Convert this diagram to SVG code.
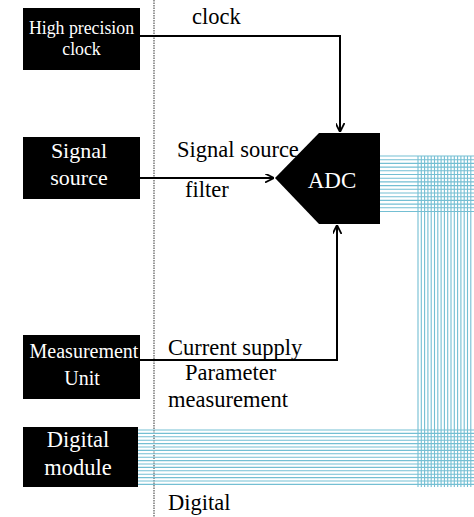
<svg xmlns="http://www.w3.org/2000/svg" width="474" height="517" viewBox="0 0 474 517">
<defs>
<style>
.box{fill:#000}
.wt{fill:#fff;font-family:"Liberation Serif","Times New Roman",serif;text-anchor:middle}
.lb{fill:#000;font-family:"Liberation Serif","Times New Roman",serif;font-size:22.5px}
.conn{stroke:#000;stroke-width:2;fill:none}
.bus{stroke:#74bfd3;stroke-width:1.1}
</style>
<marker id="arr" viewBox="0 0 10 10" refX="10" refY="5" markerWidth="9" markerHeight="9" markerUnits="userSpaceOnUse" orient="auto">
<path d="M0,0 L10,5 L0,10" fill="none" stroke="#000" stroke-width="2"/>
</marker>
</defs>
<rect width="474" height="517" fill="#fff"/>
<line x1="154" y1="0" x2="154" y2="517" stroke="#555" stroke-width="1.2" stroke-dasharray="1.5,1"/>
<g id="bus-lines">
<g class="bus">
<path d="M380,156H474M380,159.7H474M380,163.4H474M380,167.1H474M380,170.8H474M380,174.5H474M380,178.2H474M380,181.9H474M380,185.6H474M380,189.3H474M380,193H474M380,196.7H474M380,200.4H474M380,204.1H474M380,207.8H474M380,211.5H474"/>
<path d="M418,156V487M421.3,156V487M424.6,156V487M427.9,156V487M431.2,156V487M434.5,156V487M437.8,156V487M441.1,156V487M444.4,156V487M447.7,156V487M451,156V487M454.3,156V487M457.6,156V487M460.9,156V487M464.2,156V487M467.5,156V487M470.8,156V487"/>
<path d="M138,430H474M138,433.4H474M138,436.8H474M138,440.2H474M138,443.6H474M138,447H474M138,450.4H474M138,453.8H474M138,457.2H474M138,460.6H474M138,464H474M138,467.4H474M138,470.8H474M138,474.2H474M138,477.6H474M138,481H474M138,484.4H474"/>
</g>
</g>
<g id="connectors">
<path class="conn" d="M140,36H340V132" marker-end="url(#arr)"/>
<path class="conn" d="M140,178H274" marker-end="url(#arr)"/>
<path class="conn" d="M140,360H337V225" marker-end="url(#arr)"/>
</g>
<g id="clock-node">
<rect class="box" x="23" y="8" width="117" height="62"/>
<text class="wt" x="81.5" y="34" font-size="17.8">High precision</text>
<text class="wt" x="81.5" y="55" font-size="17.8">clock</text>
</g>
<g id="signal-node">
<rect class="box" x="23" y="137" width="117" height="62"/>
<text class="wt" x="79" y="158" font-size="22">Signal</text>
<text class="wt" x="79" y="185" font-size="22">source</text>
</g>
<g id="measurement-node">
<rect class="box" x="23" y="335" width="117" height="64"/>
<text class="wt" x="84" y="358" font-size="20">Measurement</text>
<text class="wt" x="82" y="385" font-size="20">Unit</text>
</g>
<g id="digital-node">
<rect class="box" x="23" y="427" width="115" height="60"/>
<text class="wt" x="78" y="447" font-size="22.5">Digital</text>
<text class="wt" x="78" y="475" font-size="22.5">module</text>
</g>
<g id="adc-node">
<polygon class="box" points="275,178 319,133 380,133 380,224 319,224"/>
<text class="wt" x="332" y="188" font-size="23">ADC</text>
</g>
<g id="labels">
<text class="lb" x="192" y="24">clock</text>
<text class="lb" x="177" y="157">Signal source</text>
<text class="lb" x="185" y="197">filter</text>
<text class="lb" x="168" y="355" font-size="24">Current supply</text>
<text class="lb" x="185" y="380" font-size="23.5">Parameter</text>
<text class="lb" x="168" y="407" font-size="23.5">measurement</text>
<text class="lb" x="168" y="510">Digital</text>
</g>
</svg>
